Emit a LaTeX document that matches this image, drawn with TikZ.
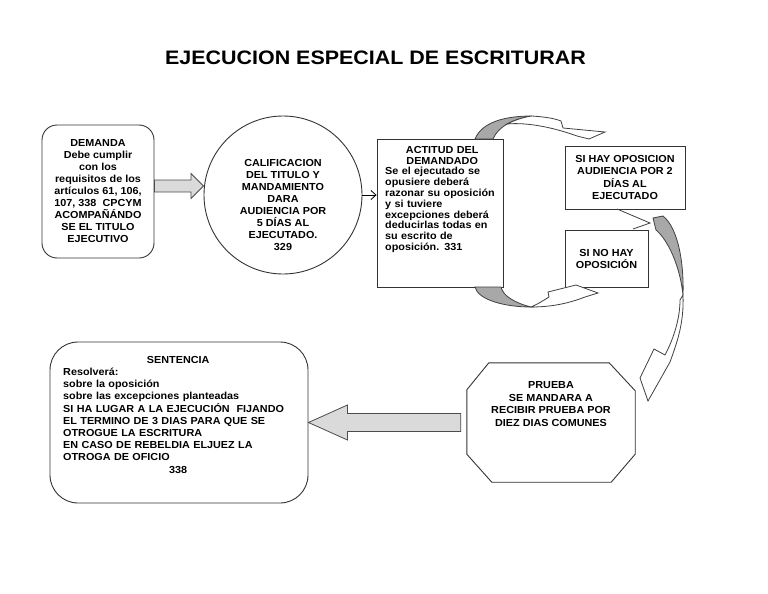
\documentclass[tikz,border=0pt]{standalone}
\usepackage{fontspec}
\setmainfont{Liberation Sans}
\newfontfamily\cajafont[FakeStretch=1.06]{Liberation Sans}
\newfontfamily\titulofont[FakeStretch=1.1]{Liberation Sans}
\usetikzlibrary{arrows.meta,calc}
\definecolor{flechagris}{HTML}{DADADA}
\definecolor{cintagris}{HTML}{A8A8A8}
\setlength{\lineskiplimit}{-10pt}

\begin{document}
\begin{tikzpicture}[x=1pt,y=-1pt,
  caja/.style={draw=black!80,line width=0.9pt},
  texto/.style={font=\cajafont\bfseries\fontsize{10.2}{12}\selectfont,align=center,inner sep=0pt},
  bloque/.style={draw=black!70,line width=0.8pt,fill=flechagris},
  cinta/.style={draw=black!75,line width=0.8pt,fill=white},
  sombra/.style={draw=black!75,line width=0.8pt,fill=cintagris}]
  \useasboundingbox (0,0) rectangle (768,594);

  \node[font=\titulofont\bfseries\fontsize{19.5}{22}\selectfont] (titulo) at (375.5,58) {EJECUCION ESPECIAL DE ESCRITURAR};

  % recuadros
  \node[caja,texto,rounded corners=15pt,minimum width=112pt,minimum height=133pt] (demanda) at (98,191.5)
    {DEMANDA\\Debe cumplir\\con los\\requisitos de los\\artículos 61, 106,\\107, 338~ CPCYM\\ACOMPAÑÁNDO\\SE EL TITULO\\EJECUTIVO};
  \node[caja,circle,minimum size=158pt] (calif) at (283,195) {};
  \node[texto] (califtxt) at (283,205) {CALIFICACION\\DEL TITULO Y\\MANDAMIENTO\\DARA\\AUDIENCIA POR\\5 DÍAS AL\\EJECUTADO.\\329};
  \node[caja,minimum width=126pt,minimum height=148pt] (actitud) at (440,213) {};
  \node[texto,font=\cajafont\bfseries\fontsize{10.2}{10.8}\selectfont,text width=114pt,align=left,anchor=north west] (actitudtxt) at (385,146)
    {\makebox[\linewidth]{ACTITUD DEL}\\\makebox[\linewidth]{DEMANDADO}\\Se el ejecutado se\\opusiere deberá\\razonar su oposición\\y si tuviere\\excepciones deberá\\deducirlas todas en\\su escrito de\\oposición. 331};
  \node[caja,texto,font=\cajafont\bfseries\fontsize{10.2}{12.5}\selectfont,minimum width=120pt,minimum height=63pt] (sihay) at (625,177.5)
    {SI HAY OPOSICION\\AUDIENCIA POR 2\\DÍAS AL\\EJECUTADO};
  \node[caja,texto,minimum width=83pt,minimum height=57pt] (sinohay) at (606.5,258.5) {SI NO HAY\\OPOSICIÓN};
  \node[caja,rounded corners=28pt,minimum width=258pt,minimum height=161pt] (sentencia) at (179,422.5) {};
  \node[texto,font=\cajafont\bfseries\fontsize{10.2}{12.2}\selectfont,text width=230pt,align=left,anchor=north west] (sentenciatxt) at (63,356)
    {\makebox[\linewidth]{SENTENCIA}\\Resolverá:\\sobre la oposición\\sobre las excepciones planteadas\\SI HA LUGAR A LA EJECUCIÓN~ FIJANDO\\EL TERMINO DE 3 DIAS PARA QUE SE\\OTROGUE LA ESCRITURA\\EN CASO DE REBELDIA ELJUEZ LA\\OTROGA DE OFICIO\\\makebox[\linewidth]{338}};
  % octogono
  \node[minimum width=168pt,minimum height=119pt] (prueba) at (551,422.5) {};
  \draw[caja] ([xshift=22pt]prueba.north west) -- ([xshift=-26pt]prueba.north east) -- ([yshift=-28pt]prueba.north east)
    -- ([yshift=28pt]prueba.south east) -- ([xshift=-24pt]prueba.south east) -- ([xshift=25pt]prueba.south west)
    -- ([yshift=28pt]prueba.south west) -- ([yshift=-27pt]prueba.north west) -- cycle;
  \node[texto,font=\cajafont\bfseries\fontsize{10.2}{12.6}\selectfont] (pruebatxt) at (551,404) {PRUEBA\\SE MANDARA A\\RECIBIR PRUEBA POR\\DIEZ DIAS COMUNES};

  % flechas de bloque
  \coordinate (punta1) at ([yshift=9pt]calif.west);
  \coordinate (cola1) at (demanda.east |- punta1);
  \draw[bloque] ([yshift=6pt]cola1) -- ([xshift=-12.5pt,yshift=6pt]punta1) -- ([xshift=-12.5pt,yshift=12.5pt]punta1) -- (punta1)
    -- ([xshift=-12.5pt,yshift=-12.5pt]punta1) -- ([xshift=-12.5pt,yshift=-6pt]punta1) -- ([yshift=-6pt]cola1) -- cycle;
  \coordinate (punta2) at (sentencia.east);
  \coordinate (cola2) at ([xshift=-6pt]prueba.west);
  \draw[bloque] ([yshift=9pt]cola2) -- ([xshift=39pt,yshift=9pt]punta2) -- ([xshift=39pt,yshift=17.5pt]punta2) -- (punta2)
    -- ([xshift=39pt,yshift=-17.5pt]punta2) -- ([xshift=39pt,yshift=-9pt]punta2) -- ([yshift=-9pt]cola2) -- cycle;
  \draw[line width=0.8pt,-{Straight Barb[length=5pt,width=9pt]}] (calif.east) -- (calif.east -| actitud.west);

  % cintas curvas
  \draw[sombra] (475,139) .. controls (482,122) and (505,116) .. (532,116) .. controls (512,119) and (498,127) .. (493,139) -- cycle;
  \draw[cinta] (532,116) .. controls (545,117) and (553,118) .. (561,121) -- (563,128) -- (605,132) -- (589,139) -- (577,136)
    .. controls (555,128) and (528,122) .. (507,124) .. controls (515,120) and (524,117) .. (532,116) -- cycle;
  \draw[sombra] (475,287) .. controls (478,300) and (505,307) .. (531,307) .. controls (515,303) and (503,296) .. (501,287) -- cycle;
  \draw[cinta] (531,307) .. controls (555,307) and (572,302) .. (585,297) -- (598,293) -- (576,285) -- (548,292) -- (549,297)
    .. controls (541,302) and (536,305) .. (531,307) -- cycle;
  \draw[draw=black!75,line width=0.8pt] (617,209) -- (650,223) -- (633,229);
  \draw[sombra] (653,218) -- (663,216) .. controls (678,228) and (684,262) .. (683,295) .. controls (680,266) and (668,240) .. (656,230) -- cycle;
  \draw[cinta] (683,295) .. controls (684,322) and (678,340) .. (670,362) -- (648,401) -- (640,378) -- (654,349) -- (665,355)
    .. controls (674,338) and (680,318) .. (680,300) -- cycle;
\end{tikzpicture}
\end{document}
